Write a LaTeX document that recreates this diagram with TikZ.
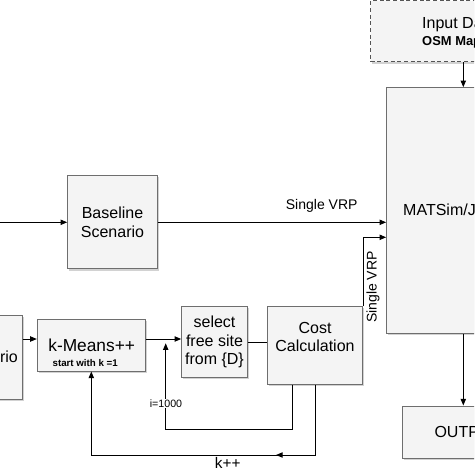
\documentclass[tikz,border=0pt]{standalone}
\usepackage{fontspec}
\setmainfont{Liberation Sans}
\usetikzlibrary{arrows.meta,shadows}

\tikzset{every picture/.style={line width=0.75pt}}
\tikzset{
  blockbox/.style={draw={rgb,255:red,110;green,110;blue,110}, fill={rgb,255:red,244;green,244;blue,244},
    drop shadow={shadow xshift=1.2pt,shadow yshift=-1.2pt,fill=black!35}, inner sep=0pt},
  txt/.style={inner sep=0pt, align=center, font=\fontsize{12}{14}\selectfont},
  lbl/.style={inner sep=0.75pt, font=\fontsize{10.5}{12}\selectfont},
  flow/.style={-{Triangle[length=5pt,width=4pt]}}
}

\begin{document}
\begin{tikzpicture}[x=0.75pt,y=0.75pt,yscale=-1,xscale=1]
\useasboundingbox (0,0) rectangle (474,474);
\clip (0,0) rectangle (474,474);

%Shape: Rectangle (input, dashed)
\node [blockbox, draw={rgb,255:red,85;green,85;blue,85}, dash pattern={on 3pt off 2pt}, minimum width=132pt, minimum height=45.75pt] (input) at (458.7,31.5) {};
%Shape: Rectangle (simulation)
\node [blockbox, minimum width=130pt, minimum height=184.2pt] (matsim) at (473.35,210.5) {};
%Shape: Rectangle (output)
\node [blockbox, minimum width=118.3pt, minimum height=39.2pt] (output) at (481.15,432.15) {};
%Shape: Rectangle (baseline)
\node [blockbox, minimum width=67.2pt, minimum height=70pt] (baseline) at (112.5,222.3) {};
%Shape: Rectangle (scenario, cut at left)
\node [blockbox, minimum width=53.25pt, minimum height=63pt] (scen) at (-13.2,357) {};
%Shape: Rectangle (k-means)
\node [blockbox, minimum width=80.8pt, minimum height=39pt] (kmeans) at (91.2,345) {};
%Shape: Rectangle (select)
\node [blockbox, minimum width=49.2pt, minimum height=53pt] (select) at (214.5,342) {};
%Shape: Rectangle (cost)
\node [blockbox, minimum width=71.25pt, minimum height=58pt] (cost) at (315.2,345.35) {};

%Coordinates
\coordinate (colx) at (463.3,0);
\coordinate (rowA) at (0,339);
\coordinate (rowB) at (0,237.3);
\coordinate (bin) at (0,222.3);
\coordinate (ia) at (292.3,429);
\coordinate (ib) at (165.7,429);
\coordinate (ic) at (165.7,343.3);
\coordinate (ka) at (315.3,455);
\coordinate (kb) at (91.3,455);
\coordinate (km) at (276,455);

%Straight Lines
\draw [flow] (colx |- input.south) -- (colx |- matsim.north);
\draw [flow] (colx |- matsim.south) -- (colx |- output.north);
\draw [flow] (bin) -- (baseline.west);
\draw [flow] (baseline.east) -- (matsim.west |- baseline.east);
\draw [flow] (cost.north east) -- (cost.north east |- rowB) -- (matsim.west |- rowB);
\draw [flow] (scen.east |- rowA) -- (kmeans.west |- rowA);
\draw [flow] (kmeans.east |- rowA) -- (select.west |- rowA);
\draw (select.east) -- (cost.west |- select.east);
\draw [flow] (cost.south -| ia) -- (ia) -- (ib) -- (ic);
\draw [flow] (cost.south -| ka) -- (ka) -- (kb) -- (kmeans.south -| kb);
\draw [flow] (ka) -- (km);

% Text Node
\node [txt, anchor=west] (tin) at (421.7,25) {Input Data};
% Text Node
\node [txt, anchor=west, font=\fontsize{9.7}{11}\selectfont\bfseries] (tosm) at (421.7,42.7) {OSM Map};
% Text Node
\node [txt, anchor=west] (tsim) at (402.7,211.7) {MATSim/JSprit};
% Text Node
\node [txt, anchor=west] (tout) at (434,431.7) {OUTPUT};
% Text Node
\node [txt] (tbase) at (baseline) {Baseline\\Scenario};
% Text Node
\node [txt, anchor=east] (tscen) at (18.3,357) {Scenario};
% Text Node
\node [txt, font=\fontsize{13}{15}\selectfont] (tkm) at (91.7,345) {k-Means++};
% Text Node
\node [txt, font=\fontsize{7.3}{9}\selectfont\bfseries] (tkstart) at (85.2,362.7) {start with k =1};
% Text Node
\node [txt] (tsel) at (select) {select\\free site\\from \{D\}};
% Text Node
\node [txt] (tcost) at (315,336.9) {Cost\\Calculation};
% Text Node
\node [lbl] (lvrp) at (321.7,205.7) {Single VRP};
% Text Node
\node [lbl, rotate=90] (lvrp2) at (373,287) {Single VRP};
% Text Node
\node [lbl, fill=white, inner sep=0.3pt, font=\fontsize{8}{9}\selectfont] (liter) at (166,403.3) {i=1000};
% Text Node
\node [lbl, font=\fontsize{11.5}{13}\selectfont] (lkpp) at (227.7,463.3) {k++};

\end{tikzpicture}
\end{document}
